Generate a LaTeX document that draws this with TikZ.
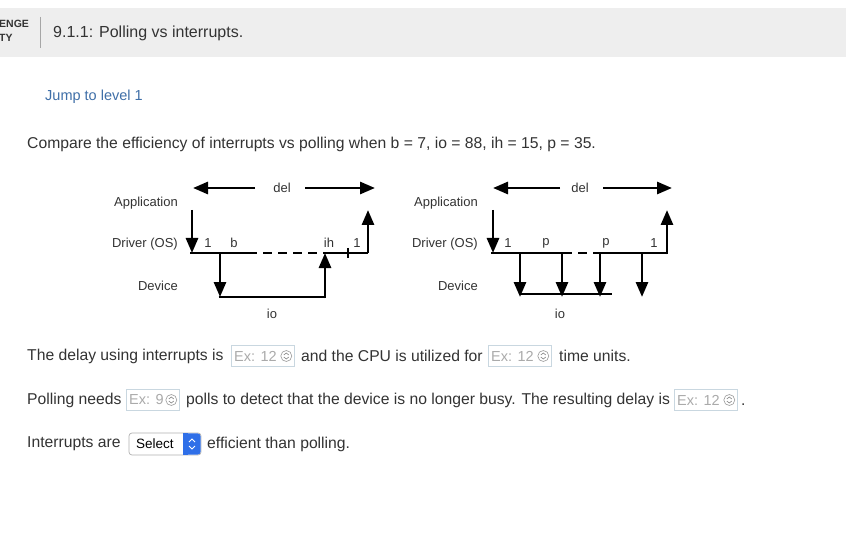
\documentclass[tikz,border=0pt]{standalone}
\usepackage{fontspec}
\setmainfont{Liberation Sans}
\usetikzlibrary{arrows.meta}
\definecolor{txt}{HTML}{333333}
\definecolor{hdr}{HTML}{EEEEEE}
\definecolor{lnk}{HTML}{3F6FA8}
\definecolor{boxb}{HTML}{C9D7E0}
\definecolor{ph}{HTML}{AAAAAA}
\definecolor{selb}{HTML}{2F6FE8}
\begin{document}
\begin{tikzpicture}[x=1pt,y=-1pt,
  body/.style={anchor=west,inner sep=0pt,text=txt,font=\fontsize{15.7}{18}\selectfont},
  lab/.style={inner sep=0pt,text=txt,font=\fontsize{13}{15}\selectfont},
  rlab/.style={lab,anchor=east},
  ln/.style={line width=2.8pt},
  arr/.style={ln,-{Triangle[width=12pt,length=15pt]}},
  dsh/.style={ln,dash pattern=on 9pt off 6pt},
  inbox/.style={draw=boxb,line width=0.8pt,minimum width=63pt,minimum height=21pt,inner sep=0pt},
]
\useasboundingbox (0,0) rectangle (846,556);
\fill[white] (0,0) rectangle (846,556);
% header
\fill[hdr] (0,8) rectangle (846,57);
\node[anchor=west,inner sep=0pt,font=\fontsize{10.5}{12}\bfseries\selectfont,text=txt] (h1) at (-1,24) {ENGE};
\node[anchor=west,inner sep=0pt,font=\fontsize{10.5}{12}\bfseries\selectfont,text=txt] (h2) at (-1,38) {TY};
\draw[gray!70,line width=1pt] (40,17) -- (40,48);
\node[anchor=west,inner sep=0pt,text=txt,font=\fontsize{16}{18}\selectfont] (title) at (53,33) {9.1.1: Polling vs interrupts.};
\node[anchor=west,inner sep=0pt,text=lnk,font=\fontsize{14.5}{16}\selectfont] (jump) at (45,97) {Jump to level 1};
\node[body] (cmp) at (27,144) {Compare the efficiency of interrupts vs polling when b = 7, io = 88, ih = 15, p = 35.};
% diagram 1
\node[lab] (del1) at (282,188) {del};
\coordinate (dl1a) at (255,188); \coordinate (dl1b) at (193,188);
\coordinate (dr1a) at (305,188); \coordinate (dr1b) at (375,188);
\draw[arr] (dl1a) -- (dl1b);
\draw[arr] (dr1a) -- (dr1b);
\node[rlab] (app1) at (178,203) {Application};
\node[rlab] (drv1) at (178,244) {Driver (OS)};
\node[rlab] (dev1) at (178,286) {Device};
\coordinate (a1) at (192,210); \coordinate (b1) at (192,253);
\draw[arr] (a1) -- (b1);
\coordinate (c1) at (248,253); \coordinate (d1) at (327,253); \coordinate (e1) at (368,253); \coordinate (f1) at (368,210);
\draw[ln] (190,253) -- (c1);
\draw[dsh] (c1) -- (d1);
\draw[ln] (d1) -- (e1);
\draw[arr] (e1) -- (f1);
\draw[line width=2pt] (348,248) -- (348,258);
\coordinate (g1) at (220,253); \coordinate (h1b) at (220,297); \coordinate (i1) at (325,297);
\draw[arr] (g1) -- (h1b);
\draw[ln] (218.6,297) -- (i1);
\draw[arr] (325,298.4) -- (325,253);
\node[lab] (l11) at (208,243) {1};
\node[lab] (lb) at (234,243) {b};
\node[lab] (lih) at (329,243) {ih};
\node[lab] (l12) at (357,243) {1};
\node[lab] (io1) at (272,314) {io};
% diagram 2
\node[lab] (del2) at (580,188) {del};
\draw[arr] (560,188) -- (493,188);
\draw[arr] (603,188) -- (672,188);
\node[rlab] (app2) at (478,203) {Application};
\node[rlab] (drv2) at (478,244) {Driver (OS)};
\node[rlab] (dev2) at (478,286) {Device};
\draw[arr] (493,210) -- (493,253);
\draw[ln] (491,253) -- (563,253);
\draw[dsh] (563,253) -- (600,253);
\draw[ln] (600,253) -- (667,253);
\draw[arr] (667,254.4) -- (667,210);
\foreach \x in {520,562,600,642} \draw[arr] (\x,253) -- (\x,297);
\draw[ln] (520,294) -- (612,294);
\node[lab] (l21) at (508,243) {1};
\node[lab] (lp1) at (546,243) {p};
\node[lab] (lp2) at (606,243) {p};
\node[lab] (l22) at (654,243) {1};
\node[lab] (io2) at (560,314) {io};
% input boxes
\newcommand{\exbox}[4]{%
  \node[inbox,anchor=west,minimum width=#3] (#1) at #2 {};
  \node[anchor=west,inner sep=0pt,text=ph,font=\fontsize{14.5}{17}\selectfont] at ([xshift=3pt]#1.west) {#4};
  \draw[gray!80,line width=0.6pt] ([xshift=-8.5pt]#1.east) circle (5.5pt);
  \draw[gray,line width=0.6pt] ([xshift=-11pt,yshift=-1pt]#1.east) -- ([xshift=-8.5pt,yshift=-3pt]#1.east) -- ([xshift=-6pt,yshift=-1pt]#1.east);
  \draw[gray,line width=0.6pt] ([xshift=-11pt,yshift=1pt]#1.east) -- ([xshift=-8.5pt,yshift=3pt]#1.east) -- ([xshift=-6pt,yshift=1pt]#1.east);
}
\node[body] (t1) at (27,356) {The delay using interrupts is};
\exbox{bx1}{(231,356)}{63pt}{Ex: 12}
\node[body] (t2) at (301,356) {and the CPU is utilized for};
\exbox{bx2}{(488,356)}{63pt}{Ex: 12}
\node[body] (t3) at (559,356) {time units.};
\node[body] (t4) at (27,400) {Polling needs};
\exbox{bx3}{(126,400)}{53pt}{Ex: 9}
\node[body] (t5) at (186,400) {polls to detect that the device is no longer busy. The resulting delay is};
\exbox{bx4}{(674,400)}{63pt}{Ex: 12}
\node[body,anchor=base west] (t6) at (741,405.5) {.};
\node[body] (t7) at (27,444) {Interrupts are};
\draw[gray!60,line width=0.7pt,rounded corners=3pt] (129,433) rectangle (201,455);
\fill[selb,rounded corners=3pt] (183,433.4) rectangle (200.6,454.6);
\fill[selb] (183,433.4) rectangle (188,454.6);
\node[anchor=west,inner sep=0pt,text=black,font=\fontsize{13.5}{15}\selectfont] (sel) at (136,444) {Select};
\draw[white,line width=1pt] (189,442) -- (192,439) -- (195,442);
\draw[white,line width=1pt] (189,446) -- (192,449) -- (195,446);
\node[body] (t8) at (207,444) {efficient than polling.};
\end{tikzpicture}
\end{document}
